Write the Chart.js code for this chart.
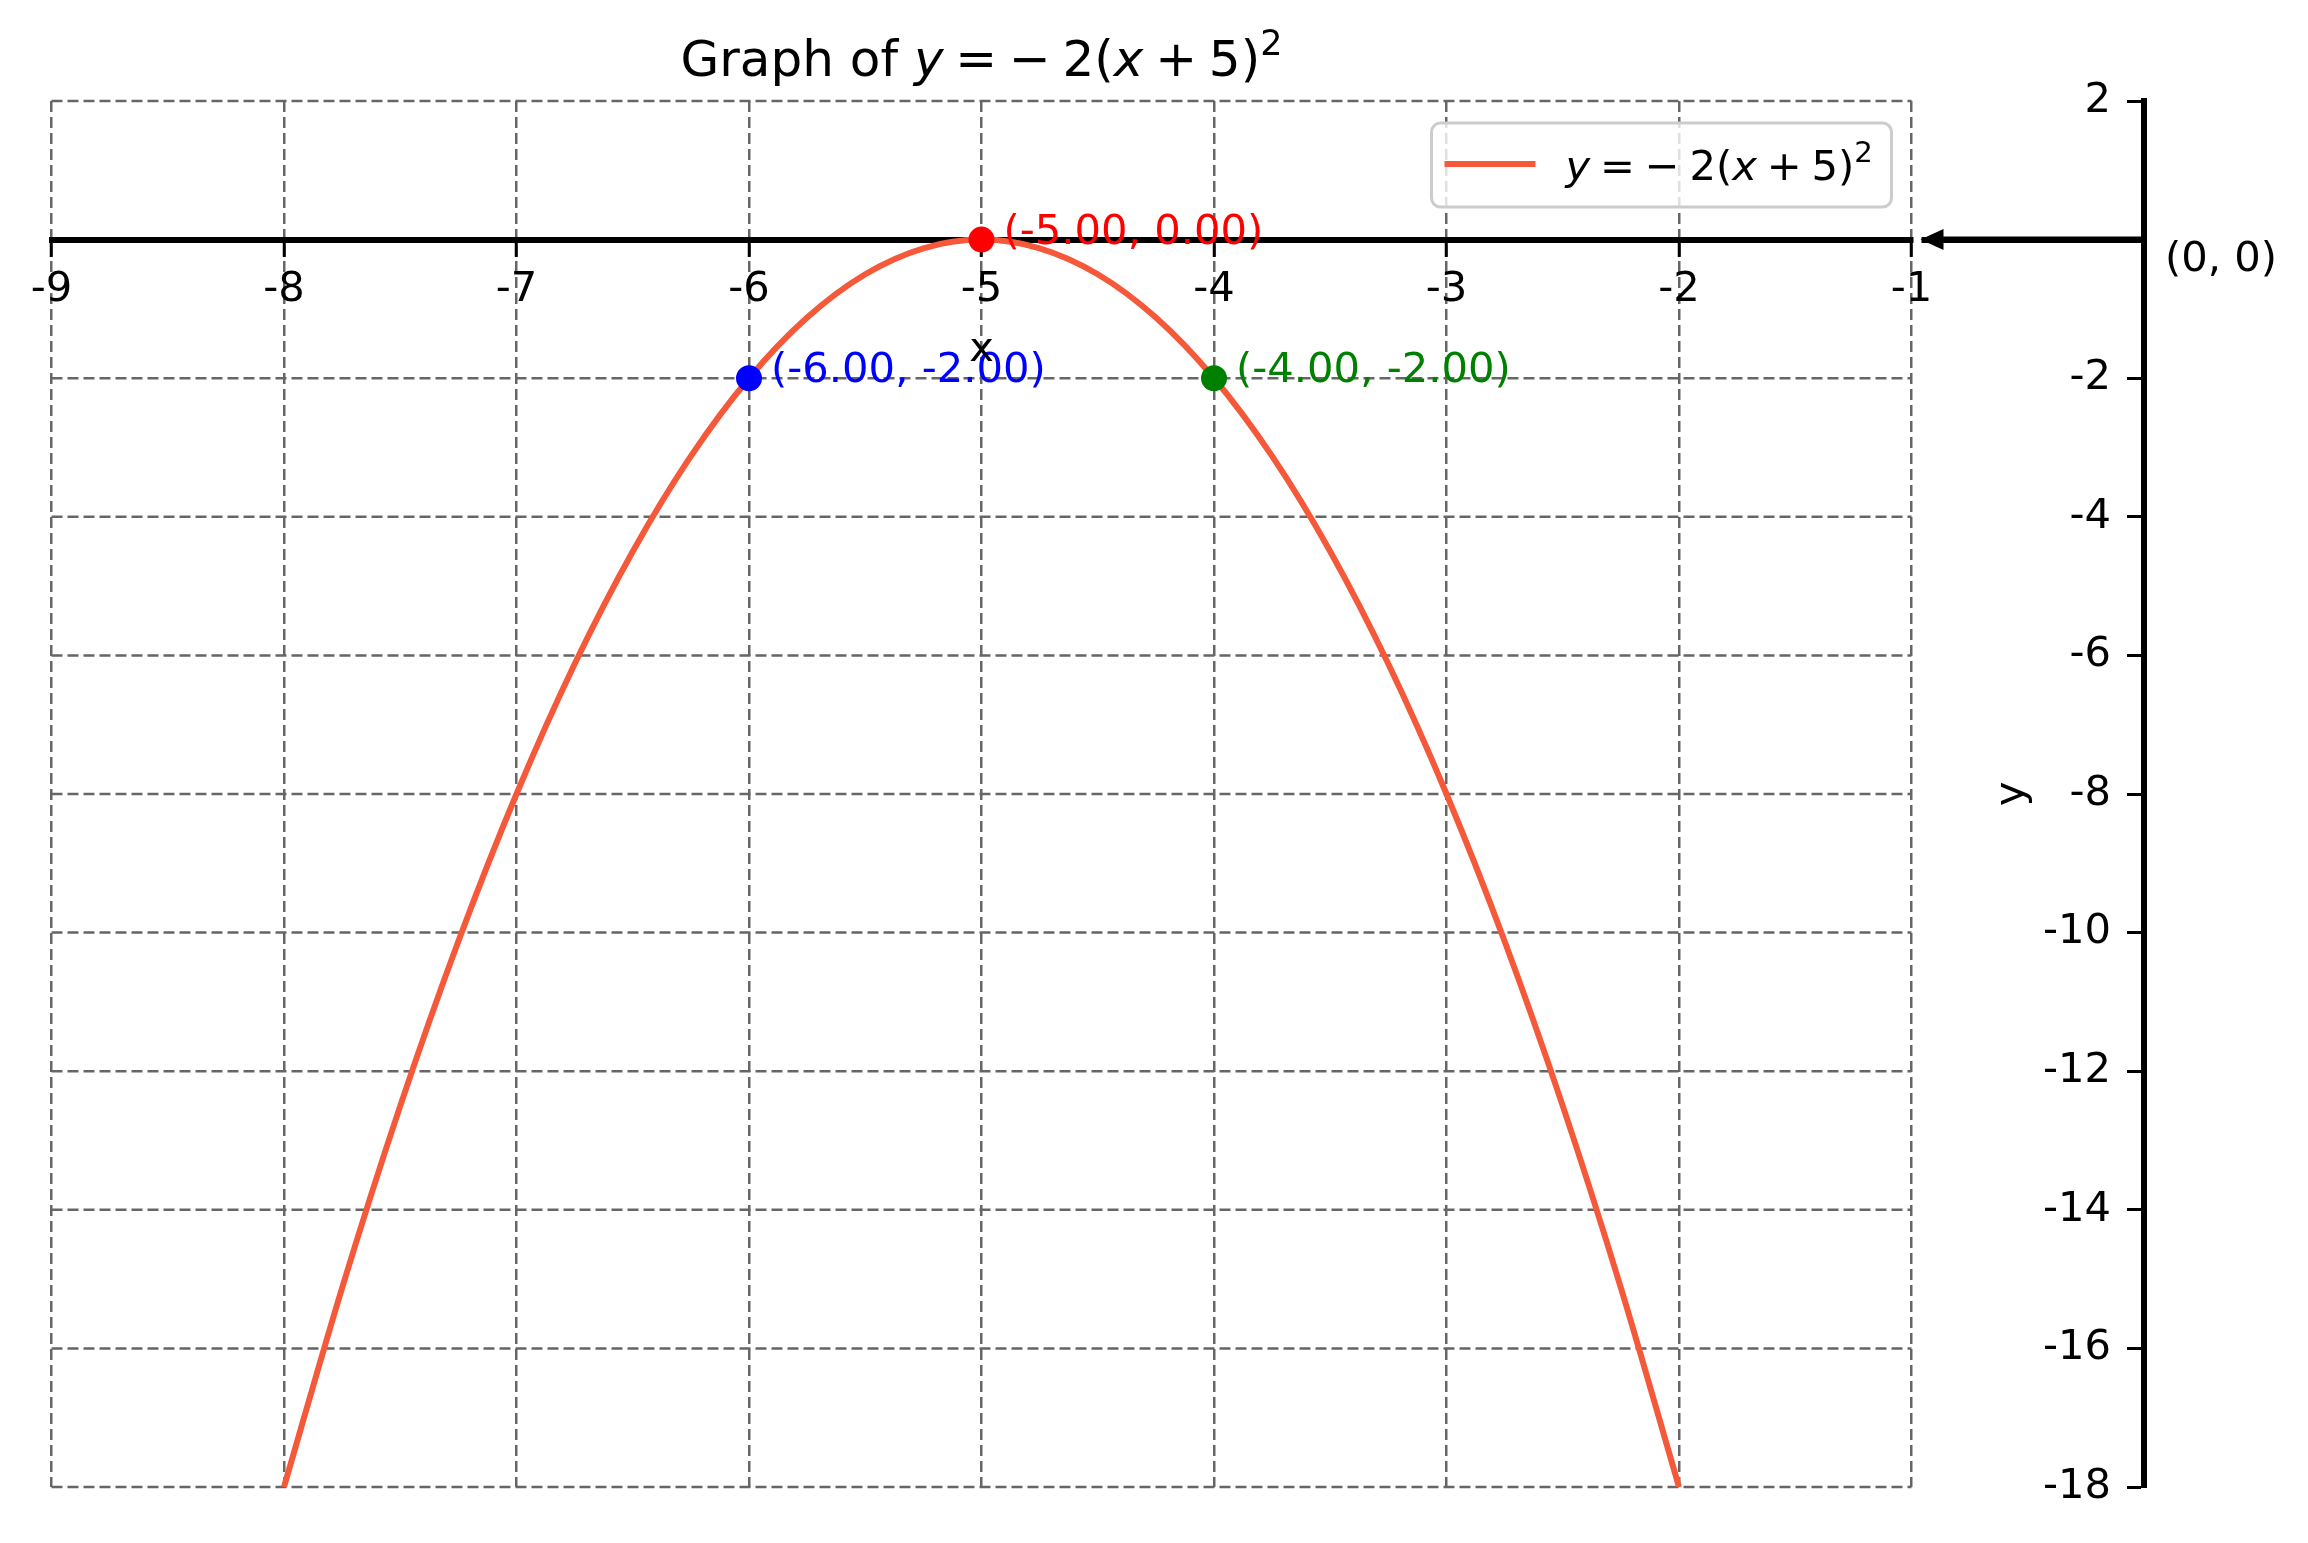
<!DOCTYPE html>
<html>
<head>
<meta charset="utf-8">
<script src="https://cdn.jsdelivr.net/npm/chart.js@4.4.0/dist/chart.umd.min.js"></script>
<style>
  html, body { margin: 0; padding: 0; background: #fff; }
  #wrap { width: 2308px; height: 1543px; }
</style>
</head>
<body>
<div id="wrap"><canvas id="chart" width="2308" height="1543"></canvas></div>
<script>
// ============================================================
// DADOS
// ============================================================
const curveX = [-8, -7.75, -7.5, -7.25, -7, -6.75, -6.5, -6.25, -6, -5.75, -5.5, -5.25, -5,
  -4.75, -4.5, -4.25, -4, -3.75, -3.5, -3.25, -3, -2.75, -2.5, -2.25, -2];
const curveY = [-18, -15.125, -12.5, -10.125, -8, -6.125, -4.5, -3.125, -2, -1.125, -0.5, -0.125, 0,
  -0.125, -0.5, -1.125, -2, -3.125, -4.5, -6.125, -8, -10.125, -12.5, -15.125, -18];
const pointX = [-5, -6, -4];
const pointY = [0, -2, -2];
const pointColors = ["red", "blue", "green"];
const pointLabels = ["(-5.00, 0.00)", "(-6.00, -2.00)", "(-4.00, -2.00)"];
const xTicks = [-9, -8, -7, -6, -5, -4, -3, -2, -1];
const yTicks = [2, -2, -4, -6, -8, -10, -12, -14, -16, -18];
const originLabel = "(0, 0)";
const arrowFrom = [0, 0];
const arrowTo = [-1, 0];

const FONT = '"DejaVu Sans"';
const CURVE_COLOR = "#F5593A";
const GRID_COLOR = "#666666";

// texto estilo mathtext: y = −2(x + 5)²
const titleSegs = [
  { t: "Graph of ", plain: true },
  { t: "y", it: true },
  { t: " = − 2(" },
  { t: "x", it: true },
  { t: " + 5)" },
  { t: "2", sup: true },
];
const legendSegs = titleSegs.slice(1);

// espaços mais estreitos, como no mathtext
function segPieces(s) {
  if (s.plain) return [s.t];
  return s.t.split(/( )/).filter((p) => p !== "");
}

function drawMath(ctx, segs, x, y, size, align) {
  const gap = size * 0.235;
  const parts = [];
  segs.forEach((s) => {
    const fs = s.sup ? size * 0.7 : size;
    const font = (s.it ? "italic " : "") + fs + "px " + FONT;
    ctx.font = font;
    segPieces(s).forEach((p) => {
      const w = p === " " ? gap : ctx.measureText(p).width;
      parts.push({ p, font, w, sup: s.sup });
    });
  });
  const total = parts.reduce((a, p) => a + p.w, 0);
  let cx = align === "center" ? x - total / 2 : x;
  ctx.textAlign = "left";
  ctx.textBaseline = "alphabetic";
  parts.forEach((p) => {
    if (p.p !== " ") {
      ctx.font = p.font;
      ctx.fillText(p.p, cx, p.sup ? y - size * 0.42 : y);
    }
    cx += p.w;
  });
}

// ============================================================
// PLUGIN: grade horizontal, título, legenda, anotações
// ============================================================
const decorPlugin = {
  id: "decor",
  beforeDatasetsDraw(chart) {
    const { ctx } = chart;
    const xs = chart.scales.x, ys = chart.scales.y;
    const x1 = xs.getPixelForValue(xTicks[0]);
    const x2 = xs.getPixelForValue(xTicks[xTicks.length - 1]);
    ctx.save();
    ctx.strokeStyle = GRID_COLOR;
    ctx.lineWidth = 2.5;
    ctx.setLineDash([11, 5]);
    ys.ticks.forEach((t) => {
      const y = ys.getPixelForValue(t.value);
      ctx.beginPath();
      ctx.moveTo(x1, y);
      ctx.lineTo(x2, y);
      ctx.stroke();
    });
    ctx.restore();
  },
  afterDatasetsDraw(chart) {
    const { ctx } = chart;
    const xs = chart.scales.x, ys = chart.scales.y;
    ctx.save();
    ctx.font = "41.7px " + FONT;
    ctx.textAlign = "left";
    ctx.textBaseline = "alphabetic";
    pointX.forEach((px, i) => {
      ctx.fillStyle = pointColors[i];
      ctx.fillText(pointLabels[i], xs.getPixelForValue(px) + 22, ys.getPixelForValue(pointY[i]) + 4);
    });
    ctx.restore();
  },
  afterDraw(chart) {
    const { ctx } = chart;
    const xs = chart.scales.x, ys = chart.scales.y;
    const left = xs.getPixelForValue(xTicks[0]);
    const right = xs.getPixelForValue(xTicks[xTicks.length - 1]);
    const mid = (left + right) / 2;
    const spineX = xs.getPixelForValue(0);
    ctx.save();
    ctx.fillStyle = "#000";

    // título
    drawMath(ctx, titleSegs, mid, 76, 50, "center");

    // rótulos do eixo y (à esquerda da linha)
    ctx.font = "41.7px " + FONT;
    ctx.textAlign = "right";
    ctx.textBaseline = "middle";
    ys.ticks.forEach((t) => {
      ctx.fillText(t.label, spineX - 33, ys.getPixelForValue(t.value));
    });

    // rótulos dos eixos
    ctx.textAlign = "center";
    ctx.textBaseline = "alphabetic";
    ctx.fillText("x", mid, ys.getPixelForValue(0) + 121);
    ctx.save();
    ctx.translate(spineX - 132, (ys.top + ys.bottom) / 2);
    ctx.rotate(-Math.PI / 2);
    ctx.textBaseline = "middle";
    ctx.fillText("y", 0, 0);
    ctx.restore();

    // seta (0,0) -> (-1,0)
    const ay = ys.getPixelForValue(arrowTo[1]);
    const tip = xs.getPixelForValue(arrowTo[0]) + 9;
    const tail = xs.getPixelForValue(arrowFrom[0]);
    ctx.fillStyle = "#fff";
    ctx.fillRect(xs.getPixelForValue(arrowTo[0]) + 2, ay - 4, 8, 8);
    ctx.strokeStyle = "#000";
    ctx.lineWidth = 6;
    ctx.beginPath();
    ctx.moveTo(tip + 15, ay);
    ctx.lineTo(tail, ay);
    ctx.stroke();
    ctx.fillStyle = "#000";
    ctx.beginPath();
    ctx.moveTo(tip, ay);
    ctx.lineTo(tip + 23, ay - 10.5);
    ctx.lineTo(tip + 23, ay + 10.5);
    ctx.closePath();
    ctx.fill();
    ctx.font = "41.7px " + FONT;
    ctx.textAlign = "left";
    ctx.fillText(originLabel, tail + 21, ay + 31);

    // legenda
    const boxR = right - 20, boxT = ys.getPixelForValue(yTicks[0]) + 22;
    const boxL = boxR - 460, boxB = boxT + 84;
    ctx.beginPath();
    ctx.roundRect(boxL, boxT, boxR - boxL, boxB - boxT, 9);
    ctx.fillStyle = "rgba(255,255,255,0.8)";
    ctx.fill();
    ctx.strokeStyle = "#cccccc";
    ctx.lineWidth = 3;
    ctx.stroke();
    const ds = chart.data.datasets.find((d) => d.id === "curve");
    ctx.strokeStyle = ds.borderColor;
    ctx.lineWidth = 6;
    ctx.beginPath();
    ctx.moveTo(boxL + 13, boxT + 41);
    ctx.lineTo(boxL + 104, boxT + 41);
    ctx.stroke();
    ctx.fillStyle = "#000";
    drawMath(ctx, legendSegs, boxL + 134, boxT + 57, 41.7, "left");
    ctx.restore();
  },
};

// ============================================================
// GRÁFICO
// ============================================================
Chart.defaults.font.family = FONT;
Chart.defaults.font.size = 41.7;
Chart.defaults.color = "#000";

const ctx = document.getElementById("chart").getContext("2d");
new Chart(ctx, {
  type: "line",
  data: {
    datasets: [
      {
        id: "points",
        type: "scatter",
        data: pointX.map((x, i) => ({ x, y: pointY[i] })),
        backgroundColor: pointColors,
        borderWidth: 0,
        pointRadius: 13,
        order: 0,
      },
      {
        id: "curve",
        label: "y = −2(x + 5)²",
        data: curveX.map((x, i) => ({ x, y: curveY[i] })),
        borderColor: CURVE_COLOR,
        borderWidth: 6,
        pointRadius: 0,
        fill: false,
        cubicInterpolationMode: "monotone",
        order: 1,
      },
    ],
  },
  options: {
    responsive: false,
    animation: false,
    devicePixelRatio: 1,
    layout: { padding: { left: 51.5, top: 101, right: 164, bottom: 56 } },
    plugins: { legend: { display: false }, title: { display: false }, tooltip: { enabled: false } },
    scales: {
      x: {
        type: "linear",
        min: -9,
        max: 0,
        position: { y: 0 },
        afterBuildTicks: (s) => { s.ticks = xTicks.map((v) => ({ value: v })); },
        afterFit: (s) => { s.height = 0; },
        ticks: { autoSkip: false, maxRotation: 0, padding: 12, callback: (v) => String(v) },
        grid: { color: GRID_COLOR, lineWidth: 2.5, tickLength: 14, tickWidth: 3, tickColor: "#000", tickBorderDash: [] },
        border: { color: "#000", width: 6, dash: [11, 5] },
      },
      y: {
        type: "linear",
        min: -18,
        max: 2,
        position: { x: 0 },
        afterBuildTicks: (s) => { s.ticks = yTicks.map((v) => ({ value: v })); },
        afterFit: (s) => { s.width = 0; },
        ticks: { display: false, autoSkip: false, callback: (v) => String(v) },
        grid: { drawOnChartArea: false, tickLength: 14, tickWidth: 3, tickColor: "#000", tickBorderDash: [] },
        border: { color: "#000", width: 6 },
      },
    },
  },
  plugins: [decorPlugin],
});
</script>
</body>
</html>
